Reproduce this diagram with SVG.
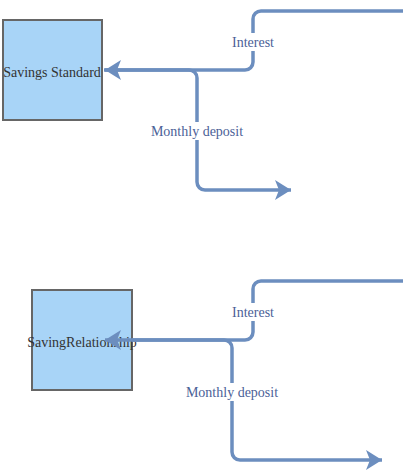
<svg xmlns="http://www.w3.org/2000/svg" width="413" height="471" viewBox="0 0 413 471">
<style>
.node{fill:#a8d4f7;stroke:#666666;stroke-width:2}
.ntext{font-size:14px;fill:#333333;text-anchor:middle}
.edge{fill:none;stroke:#6c8ebf;stroke-width:3.5}
.lbg{fill:#ffffff}
.ltext{font-size:14px;fill:#4b6197;text-anchor:middle}
</style>
<defs>
<marker id="arr" viewBox="0 0 18 20" markerWidth="18" markerHeight="20" refX="17" refY="10" orient="auto" markerUnits="userSpaceOnUse">
<path d="M1,0 L17,10 L1,20 L5,10 Z" fill="#6c8ebf"/>
</marker>
</defs>
<rect width="413" height="471" fill="#ffffff"/>
<g font-family="'Liberation Serif', 'DejaVu Serif', serif">
<g id="node-savings-standard">
<rect class="node" x="3" y="20" width="99" height="100"/>
<text class="ntext" x="52" y="77">Savings Standard</text>
</g>
<g id="node-saving-relationship">
<rect class="node" x="32" y="290" width="100" height="100"/>
<text class="ntext" x="82" y="347">SavingRelationship</text>
</g>
<g id="connectors">
<path class="edge" d="M403,11 H261 A8,8 0 0 0 253,19 V62 A8,8 0 0 1 245,70 H105" marker-end="url(#arr)"/>
<path class="edge" d="M104,70 H189 A8,8 0 0 1 197,78 V182 A8,8 0 0 0 205,190 H291" marker-end="url(#arr)"/>
<path class="edge" d="M403,281 H261 A8,8 0 0 0 253,289 V332 A8,8 0 0 1 245,340 H105" marker-end="url(#arr)"/>
<path class="edge" d="M132,340 H224 A8,8 0 0 1 232,348 V452 A8,8 0 0 0 240,460 H382" marker-end="url(#arr)"/>
<rect class="lbg" x="229" y="33" width="48" height="18"/>
<text class="ltext" x="253" y="47">Interest</text>
<rect class="lbg" x="149" y="122" width="96" height="18"/>
<text class="ltext" x="197" y="136">Monthly deposit</text>
<rect class="lbg" x="229" y="303" width="48" height="18"/>
<text class="ltext" x="253" y="317">Interest</text>
<rect class="lbg" x="184" y="383" width="96" height="18"/>
<text class="ltext" x="232" y="397">Monthly deposit</text>
</g>
</g>
</svg>
